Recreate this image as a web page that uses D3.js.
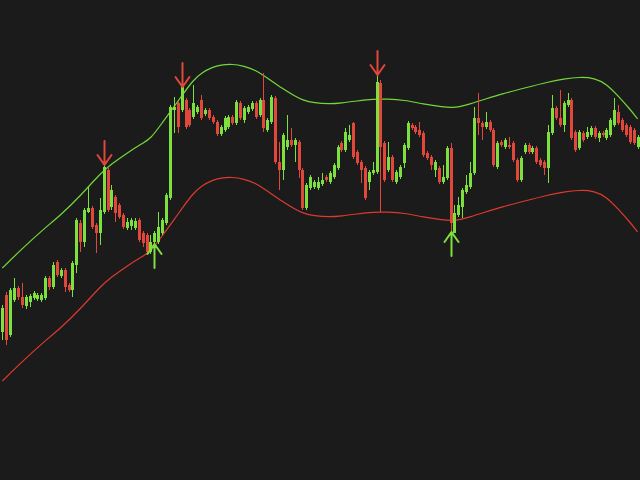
<!DOCTYPE html>
<html><head><meta charset="utf-8">
<script src="https://cdn.jsdelivr.net/npm/d3@7/dist/d3.min.js"></script>
<style>html,body{margin:0;padding:0;background:#1b1b1b;overflow:hidden}</style>
</head><body><svg id="c" width="640" height="480"></svg>
<script>
const opens  = [148,185,145,180,192,183,174,178,182,181,180,182,202,193,218,204,210,195,190,215,257,238,268,272,255,247,268,310,273,283,275,265,252,254,252,260,247,245,228,238,238,247,257,282,370,377,370,380,370,363,368,380,366,370,363,358,346,350,353,363,357,377,360,368,371,377,365,380,350,358,382,318,310,333,340,335,338,310,272,292,293,292,296,303,298,303,312,337,330,340,357,328,318,312,298,307,308,397,337,310,323,298,303,317,332,355,353,350,347,327,323,310,312,298,302,332,247,265,273,288,293,307,362,357,353,358,350,313,338,333,335,337,320,300,328,335,328,332,320,318,312,347,372,362,355,375,380,348,332,347,343,345,352,342,347,342,345,355,368,360,355,353,350,333];
const highs  = [175,188,192,202,194,197,185,186,189,187,187,204,204,218,220,212,212,197,219,262,260,272,293,274,257,282,315,312,295,285,277,267,262,262,262,262,249,247,245,249,268,262,287,375,383,379,393,382,372,395,375,385,372,372,365,360,355,364,365,365,380,379,374,375,379,379,382,407,362,385,384,338,347,365,352,342,340,312,297,305,300,303,307,305,309,317,335,339,352,355,358,330,320,314,310,318,405,400,339,338,325,310,315,337,359,357,355,358,349,329,325,320,314,315,334,337,275,283,292,305,318,373,387,359,368,360,352,339,340,342,343,339,322,324,337,337,334,334,322,320,355,385,374,390,379,387,382,350,350,349,353,354,354,349,349,352,362,382,375,362,357,355,352,345];
const lows   = [140,135,143,178,180,172,171,173,180,179,178,180,190,191,203,202,188,188,183,207,228,233,267,251,227,235,266,268,270,258,261,251,250,250,250,238,233,226,226,236,236,245,255,280,347,347,368,351,353,361,366,360,364,360,356,344,344,348,351,355,355,360,357,366,369,361,363,348,348,356,316,290,300,330,333,318,302,270,270,290,291,290,294,298,296,301,310,328,328,338,321,315,297,280,290,305,306,268,298,308,298,296,301,312,330,350,346,343,323,320,310,303,296,296,300,248,247,263,262,286,291,305,345,340,351,348,313,311,333,331,331,318,298,298,326,326,326,316,313,305,297,345,360,353,348,373,340,328,330,338,341,343,341,338,343,340,343,353,355,348,343,336,335,331];
const closes = [172,140,190,192,183,175,183,184,187,185,185,202,193,215,205,210,193,190,217,260,238,270,272,253,247,270,313,270,290,267,263,253,258,260,259,240,237,228,238,247,253,260,285,373,373,353,393,353,355,377,373,362,370,362,358,346,353,362,363,357,378,362,372,373,377,363,380,352,360,383,318,310,345,340,335,340,310,272,295,303,298,298,300,300,307,315,333,330,348,345,323,317,310,282,308,310,398,333,300,323,300,308,313,335,357,352,348,345,325,322,315,318,298,303,332,257,267,275,290,295,307,362,357,353,358,350,315,337,335,340,333,320,300,322,335,328,332,318,315,312,348,372,362,355,377,380,342,330,348,340,348,352,343,347,345,350,360,370,357,350,345,338,337,343];

// envelope bands, read at candle indices
const bandIdx   = [0,5,10,15,20,25,28,32,36,38,41,44,46,49,51,54,56,59,62,65,68,72,75,77,80,84,87,91,95,99,103,108,113,116,120,124,128,134,140,144,148,152,155,158,161,163];
const upperBand = [212,231,249,265,284,306,316,327,337,341,357,373,384,400,407,413,415,416,414,410,402,391,384,380,377,376,377,379,381,381,380,376,373,372,376,381,386,392,398,401,403,402,396,384,371,361];
const lowerBand = [99,118,136,152,171,193,203,214,224,228,244,260,271,287,294,300,302,303,301,297,289,278,271,267,264,263,264,266,268,268,267,263,260,259,263,268,273,279,285,288,290,289,283,271,258,248];

// signal arrows (candle indices)
const sellSignals = [26,46,96];
const buySignals  = [39,115];

const W = 640, H = 480;
const GREEN = "#7ee03f", RED = "#e2473b";
const BAND_G = "#72d83a", BAND_R = "#dc3a2e";
const svg = d3.select("#c");
svg.append("rect").attr("width",W).attr("height",H).attr("fill","#1b1b1b");

const n = closes.length;
const x = d3.scaleBand().domain(d3.range(n)).range([0, W]).padding(0.2);
const y = d3.scaleLinear().domain([0, 480]).range([H, 0]);
const cx = i => x(i) + x.bandwidth()/2;

// bands
const line = d3.line().curve(d3.curveBasis);
svg.append("path")
  .attr("d", line(bandIdx.map((i,k)=>[cx(i), y(upperBand[k])])))
  .attr("fill","none").attr("stroke", BAND_G).attr("stroke-width",1.2);
svg.append("path")
  .attr("d", line(bandIdx.map((i,k)=>[cx(i), y(lowerBand[k])])))
  .attr("fill","none").attr("stroke", BAND_R).attr("stroke-width",1.2);

// candles
const g = svg.append("g");
const data = d3.range(n).map(i => ({i, o:opens[i], h:highs[i], l:lows[i], c:closes[i]}));
g.selectAll("line.wick").data(data).join("line")
  .attr("class","wick")
  .attr("x1", d => Math.round(cx(d.i)) + 0.5).attr("x2", d => Math.round(cx(d.i)) + 0.5)
  .attr("y1", d => y(d.h)).attr("y2", d => y(d.l))
  .attr("stroke", d => d.c >= d.o ? GREEN : RED).attr("stroke-width",1);
g.selectAll("rect.body").data(data).join("rect")
  .attr("class","body")
  .attr("x", d => Math.round(cx(d.i)) - 1)
  .attr("width", 3)
  .attr("y", d => y(Math.max(d.o, d.c)))
  .attr("height", d => Math.max(1, Math.abs(y(d.o) - y(d.c))))
  .attr("fill", d => d.c >= d.o ? GREEN : RED);

// arrows
const AL = 24, AX = 7, AY = 10;
function arrow(i, tipY, dir, color) {
  const X = Math.round(cx(i)) + 0.5;
  const tail = tipY - dir*AL;
  const p = d3.path();
  p.moveTo(X, tail); p.lineTo(X, tipY);
  p.moveTo(X - AX, tipY - dir*AY); p.lineTo(X, tipY); p.lineTo(X + AX, tipY - dir*AY);
  svg.append("path").attr("d", p.toString()).attr("fill","none")
    .attr("stroke", color).attr("stroke-width",2).attr("stroke-linecap","round").attr("stroke-linejoin","round");
}
sellSignals.forEach(i => arrow(i, y(highs[i]), 1, RED));
buySignals.forEach(i => arrow(i, y(lows[i]), -1, GREEN));
</script></body></html>
